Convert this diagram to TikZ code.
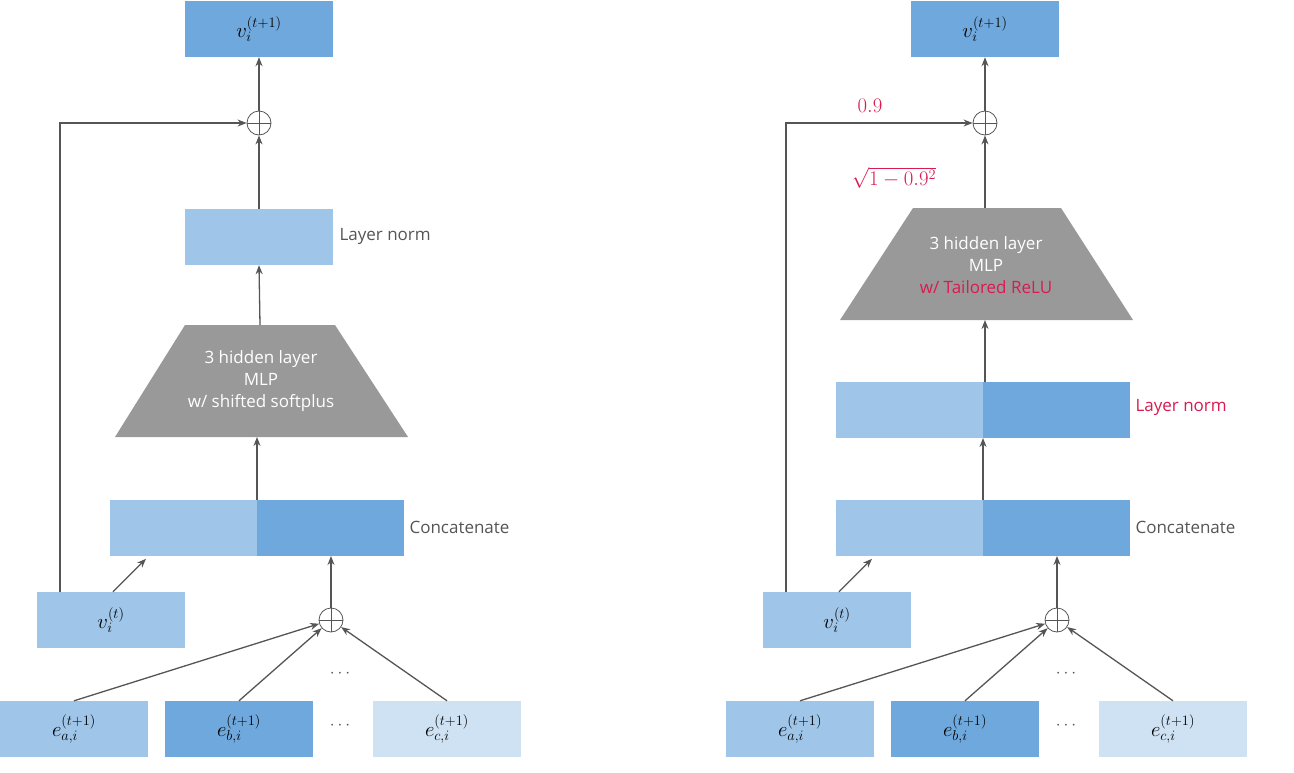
\documentclass[tikz,border=0pt]{standalone}
\usepackage{fontspec}
\setsansfont{Open Sans}
\usetikzlibrary{arrows.meta}
\definecolor{bdark}{HTML}{6FA8DC}
\definecolor{blight}{HTML}{9FC5E8}
\definecolor{bvlight}{HTML}{CFE2F3}
\definecolor{tgray}{HTML}{999999}
\definecolor{lgray}{HTML}{555555}
\definecolor{red1}{HTML}{D81B50}
\tikzset{
 bx/.style={minimum width=148pt,minimum height=56pt,inner sep=0,font=\fontsize{20}{24}\selectfont},
 half/.style={minimum width=147pt,minimum height=56pt,inner sep=0},
 lbl/.style={anchor=west,text=lgray,font=\sffamily\fontsize{17}{20}\selectfont},
 op/.style={circle,draw=lgray,thick,minimum size=24pt,inner sep=0,path picture={\draw[lgray,thick] (path picture bounding box.north)--(path picture bounding box.south) (path picture bounding box.west)--(path picture bounding box.east);}},
 ar/.style={draw=lgray,line width=1.3pt,-{Stealth[length=9pt,width=7pt]}},
 dots/.style={font=\fontsize{18}{20}\selectfont,text=lgray}
}
\begin{document}
\begin{tikzpicture}[x=1pt,y=-1pt]
\useasboundingbox (0,0) rectangle (1294,772);
\foreach \o/\s in {0/L,726/R}{
\begin{scope}[xshift=\o pt]
\node[bx,fill=bdark] (top\s) at (259,29) {$v_i^{(t+1)}$};
\node[op] (op1\s) at (259,123) {};
\node[bx,fill=blight] (v\s) at (111,620) {$v_i^{(t)}$};
\node[op] (op2\s) at (331,620) {};
\node[bx,fill=blight] (ea\s) at (74,729) {$e_{a,i}^{(t+1)}$};
\node[bx,fill=bdark] (eb\s) at (239,729) {$e_{b,i}^{(t+1)}$};
\node[bx,fill=bvlight] (ec\s) at (447,729) {$e_{c,i}^{(t+1)}$};
\node[dots] (d1\s) at (340,726) {$\cdots$};
\node[dots] (d2\s) at (340,674) {$\cdots$};
\node[half,fill=blight] (cl\s) at (183.5,528) {};
\node[half,fill=bdark] (cr\s) at (330.5,528) {};
\node[lbl] (cat\s) at (406,527) {Concatenate};
\coordinate (catb\s) at (331,556);
\coordinate (catt\s) at (257,500);
\draw[ar] (ea\s.north) -- (op2\s);
\draw[ar] (eb\s.north) -- (op2\s);
\draw[ar] (ec\s.north) -- (op2\s);
\draw[ar] (op2\s) -- (catb\s);
\draw[ar] ([xshift=2pt]v\s.north) -- ++(33,-33);
\draw[ar] ([xshift=-51pt]v\s.north) |- (op1\s.west);
\draw[ar] (op1\s) -- (top\s);
\end{scope}}
% left
\node[bx,fill=blight] (lnL) at (259,237) {};
\node[lbl] (lnlL) at (336,236) {Layer norm};
\fill[tgray] (115,437) -- (408,437) -- (335,325) -- (185,325) -- cycle;
\node[text=white,align=center,font=\sffamily\fontsize{17}{22}\selectfont] (mlpL) at (261,381) {3 hidden layer\\MLP\\w/ shifted softplus};
\coordinate (mlpLb) at (257,437); \coordinate (mlpLt) at (260,325);
\draw[ar] (cattL) -- (mlpLb);
\draw[ar] (mlpLt) -- (lnL.south);
\draw[ar] (lnL.north) -- (op1L);
% right
\node[half,fill=blight] (lnaR) at (909.5,410) {};
\node[half,fill=bdark] (lnbR) at (1056.5,410) {};
\node[lbl,text=red1] (lnlR) at (1132,407) {Layer norm};
\fill[tgray] (840,320) -- (1133,320) -- (1061,208) -- (913,208) -- cycle;
\node[text=white,align=center,font=\sffamily\fontsize{17}{22}\selectfont] (mlpR) at (986,265) {3 hidden layer\\MLP\\\textcolor{red1}{w/ Tailored ReLU}};
\coordinate (mlpRb) at (985,320); \coordinate (mlpRt) at (985,208);
\coordinate (catRt) at (983,500); \coordinate (lnRb) at (983,438); \coordinate (lnRt) at (985,382);
\draw[ar] (catRt) -- (lnRb);
\draw[ar] (lnRt) -- (mlpRb);
\draw[ar] (mlpRt) -- (op1R);
\node[text=red1,font=\fontsize{20}{24}\selectfont] (w1) at (870,106) {$0.9$};
\node[text=red1,font=\fontsize{20}{24}\selectfont] (w2) at (894,178) {$\sqrt{1-0.9^2}$};
\end{tikzpicture}
\end{document}
